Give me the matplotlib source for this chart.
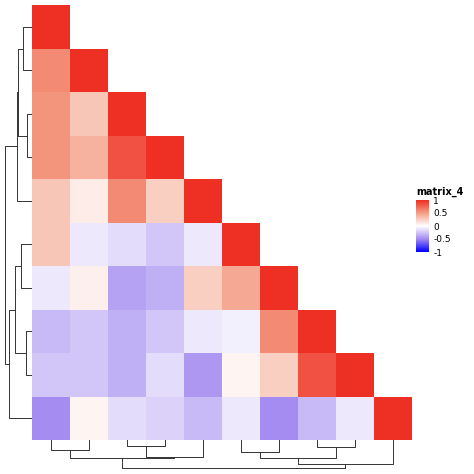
import numpy as np
import matplotlib
matplotlib.use("Agg")
import matplotlib.pyplot as plt
from matplotlib.colors import LinearSegmentedColormap

# lower triangle correlation values, row by row
rows = [
    [1.0],
    [0.60, 1.0],
    [0.55, 0.30, 1.0],
    [0.55, 0.40, 0.85, 1.0],
    [0.30, 0.10, 0.60, 0.25, 1.0],
    [0.30, -0.10, -0.15, -0.25, -0.10, 1.0],
    [-0.10, 0.08, -0.40, -0.35, 0.25, 0.45, 1.0],
    [-0.30, -0.25, -0.35, -0.25, -0.10, -0.07, 0.60, 1.0],
    [-0.25, -0.25, -0.35, -0.15, -0.45, 0.05, 0.25, 0.85, 1.0],
    [-0.50, 0.05, -0.15, -0.20, -0.30, -0.10, -0.50, -0.30, -0.10, 1.0],
]
# dendrogram merges: (a, b, height); leaves 0..9, new clusters 10..
row_merges = [(0, 1, 9), (2, 3, 5), (10, 11, 14), (12, 4, 15), (5, 6, 11),
              (7, 8, 6), (14, 15, 17), (16, 9, 23), (13, 17, 27)]
col_merges = [(0, 1, 10), (2, 3, 6), (11, 4, 17), (10, 12, 18), (5, 6, 12),
              (7, 8, 7), (14, 15, 18), (16, 9, 24), (13, 17, 28)]
legend_ticks = [1, 0.5, 0, -0.5, -1]

n = len(rows)
M = np.full((n, n), np.nan)
for i, r in enumerate(rows):
    M[i, :len(r)] = r

cmap = LinearSegmentedColormap.from_list(
    "m4", [(0, "#0000FF"), (0.25, "#A48CF0"), (0.5, "#FFFFFF"),
           (0.75, "#F4A088"), (1, "#EE3024")])

W = 474
fig = plt.figure(figsize=(W / 100, W / 100), dpi=100)
px = lambda v: v / W
ax = fig.add_axes([px(32), px(474 - 440), px(380), px(435)])
ax.pcolormesh(np.ma.masked_invalid(M), cmap=cmap, vmin=-1, vmax=1)
ax.set_xlim(0, n)
ax.set_ylim(n, 0)
ax.axis("off")


def dendro(merges):
    pos = {i: i + 0.5 for i in range(n)}
    hgt = {i: 0 for i in range(n)}
    segs = []
    for k, (a, b, h) in enumerate(merges):
        segs.append((pos[a], hgt[a], pos[b], hgt[b], h))
        pos[n + k] = (pos[a] + pos[b]) / 2
        hgt[n + k] = h
    return segs


# left dendrogram
axl = fig.add_axes([px(2), px(474 - 440), px(30), px(435)])
for pa, ha, pb, hb, h in dendro(row_merges):
    axl.plot([ha, h, h, hb], [pa, pa, pb, pb], color="#333333", lw=0.7)
axl.set_xlim(30, 0)
axl.set_ylim(n, 0)
axl.axis("off")

# bottom dendrogram
axb = fig.add_axes([px(32), px(2), px(380), px(32)])
for pa, ha, pb, hb, h in dendro(col_merges):
    axb.plot([pa, pa, pb, pb], [ha, h, h, hb], color="#333333", lw=0.7)
axb.set_xlim(0, n)
axb.set_ylim(32, 0)
axb.axis("off")

# legend
fig.text(px(416), 1 - px(192), "matrix_4", fontsize=7, fontweight="bold",
         va="center", ha="left")
cax = fig.add_axes([px(416), px(474 - 252), px(13), px(52)])
grad = np.linspace(1, -1, 200).reshape(-1, 1)
cax.imshow(grad, cmap=cmap, vmin=-1, vmax=1, aspect="auto",
           extent=[0, 1, -1, 1])
cax.set_xticks([])
cax.yaxis.tick_right()
cax.set_yticks(legend_ticks)
cax.set_yticklabels([str(t) for t in legend_ticks], fontsize=6.5)
cax.tick_params(axis="y", length=2, width=0.5, pad=1, color="white")
for s in cax.spines.values():
    s.set_visible(False)

fig.savefig("out.png", dpi=100)
